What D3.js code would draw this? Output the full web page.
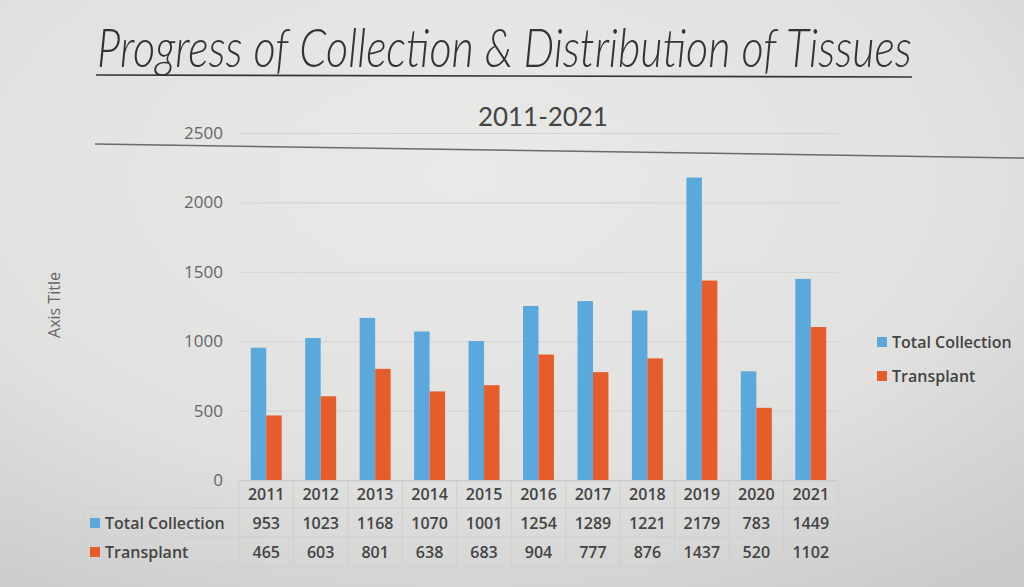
<!DOCTYPE html>
<html>
<head>
<meta charset="utf-8">
<script src="https://cdn.jsdelivr.net/npm/d3@7"></script>
<style>
  body { margin: 0; padding: 0; overflow: hidden; }
  svg { display: block; }
</style>
</head>
<body>
<div id="chart"></div>
<script>
// data
const years = ["2011", "2012", "2013", "2014", "2015", "2016", "2017", "2018", "2019", "2020", "2021"];
const total_collection = [953, 1023, 1168, 1070, 1001, 1254, 1289, 1221, 2179, 783, 1449];
const transplant = [465, 603, 801, 638, 683, 904, 777, 876, 1437, 520, 1102];
const series_names = ["Total Collection", "Transplant"];
const y_ticks = [0, 500, 1000, 1500, 2000, 2500];

const width = 1024, height = 587;
const colors = ["#5aa8dc", "#e65c2b"];
const font = "Lato, 'Open Sans', sans-serif";
const table_font = "'Open Sans', Lato, sans-serif";

const svg = d3.select("#chart").append("svg")
  .attr("width", width)
  .attr("height", height);

// background like the photographed screen
const defs = svg.append("defs");
const grad = defs.append("radialGradient").attr("id", "bg")
  .attr("cx", "0.45").attr("cy", "0.3").attr("r", "0.85");
grad.append("stop").attr("offset", "0").attr("stop-color", "#e9e9e8");
grad.append("stop").attr("offset", "0.6").attr("stop-color", "#e1e1e0");
grad.append("stop").attr("offset", "1").attr("stop-color", "#cacaca");
svg.append("rect").attr("width", width).attr("height", height).attr("fill", "url(#bg)");

// Title - narrow light italic, squeezed to the reference width
const title = svg.append("text")
  .attr("x", 0).attr("y", 0)
  .attr("font-family", font)
  .attr("font-style", "italic")
  .attr("font-weight", 300)
  .attr("font-size", 54)
  .attr("fill", "#333")
  .text("Progress of Collection & Distribution of Tissues");
let tw = title.node().getComputedTextLength();
title.attr("transform", `translate(97,67) scale(${815 / tw},1)`);
svg.append("line")
  .attr("x1", 96).attr("x2", 912).attr("y1", 75).attr("y2", 77)
  .attr("stroke", "#333").attr("stroke-width", 1.6);

const sub = svg.append("text")
  .attr("font-family", font)
  .attr("font-size", 26)
  .attr("fill", "#444")
  .text("2011-2021");
let sw = sub.node().getComputedTextLength();
sub.attr("transform", `translate(478,126) scale(${130 / sw},1)`);

// screen edge line
svg.append("line")
  .attr("x1", 95).attr("x2", 1024).attr("y1", 144).attr("y2", 158)
  .attr("stroke", "#6a6a6a").attr("stroke-width", 1.5);

// scales
const x = d3.scaleBand().domain(years).range([239, 838]).paddingInner(0).paddingOuter(0);
const y = d3.scaleLinear().domain([0, 2500]).range([480, 133]);
const xs = d3.scaleBand().domain(series_names).range([0, x.bandwidth()]).paddingInner(0).paddingOuter(0.76);

// grid + y axis
const yAxis = svg.append("g")
  .attr("transform", "translate(239,0)")
  .call(d3.axisLeft(y).tickValues(y_ticks).tickFormat(d3.format("d")).tickSize(-599).tickPadding(16));
yAxis.select(".domain").remove();
yAxis.selectAll(".tick line").attr("stroke", "#d2d2d2").attr("stroke-width", 1)
  .filter(d => d === 0).attr("stroke", "#c8c8c8");
yAxis.selectAll(".tick text")
  .attr("font-family", table_font).attr("font-size", 17).attr("fill", "#666");

svg.append("text")
  .attr("transform", "translate(60,305) rotate(-90)")
  .attr("text-anchor", "middle")
  .attr("font-family", table_font)
  .attr("font-size", 16)
  .attr("fill", "#666")
  .text("Axis Title");

// bars
const series = [total_collection, transplant];
series.forEach((vals, si) => {
  svg.append("g").selectAll("rect")
    .data(vals)
    .enter()
    .append("rect")
    .attr("x", (d, i) => x(years[i]) + xs(series_names[si]))
    .attr("width", xs.bandwidth())
    .attr("y", d => y(d))
    .attr("height", d => y(0) - y(d))
    .attr("fill", colors[si]);
});

// data table
const row_y = [481, 508, 537, 566];
const table = svg.append("g");
const border = "#cfcfcf";
table.append("line").attr("x1", 239).attr("x2", 838).attr("y1", row_y[0]).attr("y2", row_y[0]).attr("stroke", border);
[1, 2, 3].forEach(r => {
  table.append("line").attr("x1", 83).attr("x2", 838).attr("y1", row_y[r]).attr("y2", row_y[r]).attr("stroke", border);
});
years.concat(["end"]).forEach((yr, i) => {
  const xx = i < years.length ? x(yr) : x.range()[1];
  table.append("line").attr("x1", xx).attr("x2", xx).attr("y1", row_y[0]).attr("y2", row_y[3]).attr("stroke", border);
});
table.append("line").attr("x1", 83).attr("x2", 83).attr("y1", row_y[1]).attr("y2", row_y[3]).attr("stroke", border);

table.selectAll(".yr").data(years).enter().append("text")
  .attr("x", d => x(d) + x.bandwidth() / 2)
  .attr("y", 500)
  .attr("text-anchor", "middle")
  .attr("font-family", table_font).attr("font-size", 16).attr("font-weight", 600)
  .attr("fill", "#444")
  .text(d => d);

series.forEach((vals, si) => {
  const ty = si === 0 ? 529 : 558;
  table.append("rect")
    .attr("x", 90).attr("y", ty - 11).attr("width", 10).attr("height", 10)
    .attr("fill", colors[si]);
  table.append("text")
    .attr("x", 105).attr("y", ty)
    .attr("font-family", table_font).attr("font-size", 16).attr("font-weight", 600)
    .attr("fill", "#444")
    .text(series_names[si]);
  table.selectAll(".v" + si).data(vals).enter().append("text")
    .attr("x", (d, i) => x(years[i]) + x.bandwidth() / 2)
    .attr("y", ty)
    .attr("text-anchor", "middle")
    .attr("font-family", table_font).attr("font-size", 16).attr("font-weight", 600)
    .attr("fill", "#444")
    .text(d => d);
});

// legend
series_names.forEach((name, si) => {
  const ly = 348 + si * 34;
  svg.append("rect")
    .attr("x", 877).attr("y", ly - 11).attr("width", 10).attr("height", 10)
    .attr("fill", colors[si]);
  svg.append("text")
    .attr("x", 892).attr("y", ly)
    .attr("font-family", table_font).attr("font-size", 16).attr("font-weight", 600)
    .attr("fill", "#444")
    .text(name);
});
</script>
</body>
</html>
